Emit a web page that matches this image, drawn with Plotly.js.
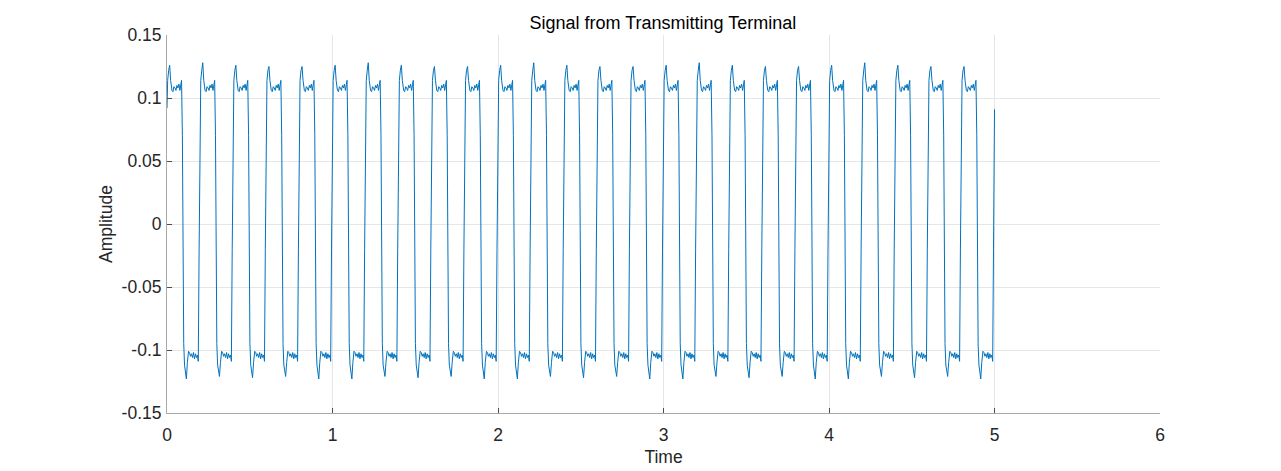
<!DOCTYPE html>
<html>
<head>
<meta charset="utf-8">
<script src="https://cdn.plot.ly/plotly-3.0.1.min.js"></script>
<style>html,body{margin:0;padding:0;background:#fff;}#chart{width:1281px;height:471px;}</style>
</head>
<body>
<div id="chart"></div>
<script>
// One period (0.2 s) of the transmitted waveform
const periodLength = 0.2;
const cycleCount = 25;
const phaseTimes = [0.000, 0.004, 0.010, 0.016, 0.022, 0.030, 0.036, 0.042, 0.048, 0.054, 0.060, 0.066, 0.072, 0.078, 0.084, 0.088,
                    0.093, 0.097, 0.101, 0.106, 0.111, 0.117, 0.123, 0.130, 0.136, 0.142, 0.148, 0.154, 0.160, 0.166, 0.172, 0.178, 0.184, 0.189, 0.194];
const phaseValues = [0.092, 0.114, 0.122, null, 0.114, 0.106, 0.105, 0.109, 0.108, 0.106, 0.110, 0.108, 0.111, 0.106, 0.111, 0.114,
                     0.070, -0.020, -0.095, -0.112, -0.118, null, -0.110, -0.101, -0.102, -0.105, -0.103, -0.106, -0.102, -0.107, -0.103, -0.106, -0.104, -0.109, -0.020];
// per-cycle overshoot peaks (top) and undershoot troughs (bottom)
const topPeaks = [0.126, 0.128, 0.126, 0.125, 0.125, 0.126, 0.128, 0.126, 0.125, 0.125,
                  0.126, 0.128, 0.126, 0.125, 0.125, 0.126, 0.128, 0.126, 0.125, 0.125,
                  0.126, 0.128, 0.126, 0.125, 0.125];
const bottomTroughs = [-0.123, -0.121, -0.122, -0.121, -0.123, -0.123, -0.121, -0.122, -0.121, -0.123,
                       -0.123, -0.121, -0.122, -0.121, -0.123, -0.123, -0.121, -0.122, -0.121, -0.123,
                       -0.123, -0.121, -0.122, -0.121, -0.123];
const endTime = 5.0;
const endValue = 0.091;

const xTickVals = [0, 1, 2, 3, 4, 5, 6];
const xTickText = ['0', '1', '2', '3', '4', '5', '6'];
const yTickVals = [-0.15, -0.1, -0.05, 0, 0.05, 0.1, 0.15];
const yTickText = ['-0.15', '-0.1', '-0.05', '0', '0.05', '0.1', '0.15'];

const t = [], y = [];
for (let c = 0; c < cycleCount; c++) {
  for (let i = 0; i < phaseTimes.length; i++) {
    t.push(c * periodLength + phaseTimes[i]);
    let v = phaseValues[i];
    if (i === 3) v = topPeaks[c];
    if (i === 21) v = bottomTroughs[c];
    y.push(v);
  }
}
t.push(endTime); y.push(endValue);

const FONT = 'Liberation Sans, Arial, sans-serif';
const axisCommon = {
  showgrid: true, gridcolor: '#e6e6e6', gridwidth: 1,
  showline: true, linecolor: '#a8a8a8', linewidth: 1,
  ticks: 'inside', ticklen: 5, tickcolor: '#4d4d4d', tickwidth: 1,
  zeroline: false,
  tickfont: {family: FONT, size: 17.5, color: '#262626'},
  mirror: false
};

Plotly.newPlot('chart', [{
  x: t, y: y, type: 'scatter', mode: 'lines',
  line: {color: '#0072BD', width: 1}
}], {
  width: 1281, height: 471,
  margin: {l: 167, r: 121, t: 35, b: 58},
  paper_bgcolor: '#fff', plot_bgcolor: '#fff',
  showlegend: false,
  title: {text: 'Signal from Transmitting Terminal', x: 0.5175, xanchor: 'center', y: 0.951, yanchor: 'middle',
          font: {family: FONT, size: 18, color: '#000'}},
  xaxis: Object.assign({}, axisCommon, {
    range: [0, 6], tickvals: xTickVals, ticktext: xTickText, ticklabelstandoff: 6,
    title: {text: 'Time', standoff: 6, font: {family: FONT, size: 17.5, color: '#262626'}}
  }),
  yaxis: Object.assign({}, axisCommon, {
    range: [-0.15, 0.15], tickvals: yTickVals, ticktext: yTickText, ticklabelstandoff: 1,
    title: {text: 'Amplitude', standoff: 4, font: {family: FONT, size: 17.5, color: '#262626'}}
  })
}, {displayModeBar: false, staticPlot: true});
</script>
</body>
</html>
